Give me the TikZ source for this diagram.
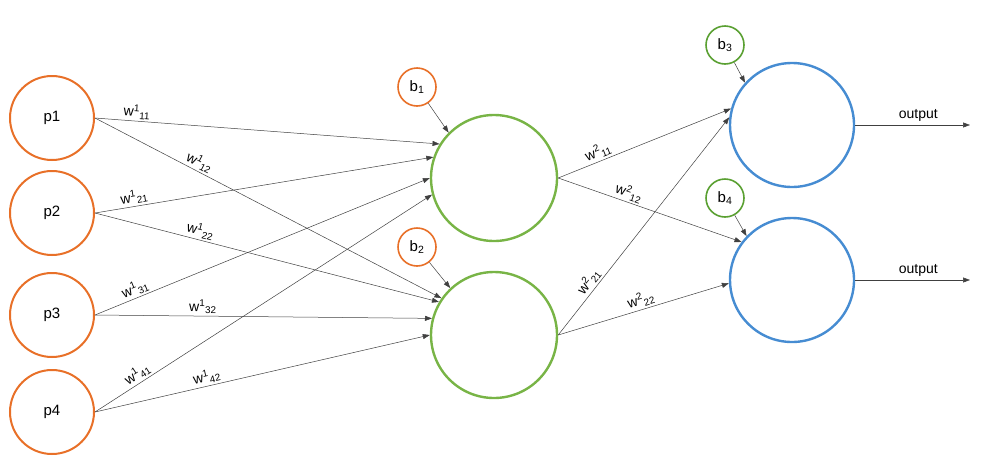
\documentclass[tikz,border=0pt]{standalone}
\usepackage{fontspec}
\setmainfont{Liberation Sans}
\usetikzlibrary{arrows.meta}
\definecolor{org}{RGB}{232,112,40}
\definecolor{grn}{RGB}{120,180,70}
\definecolor{blu}{RGB}{70,140,210}
\definecolor{bgr}{RGB}{90,160,50}
\begin{document}
\begin{tikzpicture}[x=1pt,y=-1pt,
  inp/.style={circle,draw=org,line width=2pt,minimum size=84pt,inner sep=0pt,font=\fontsize{15}{17}\selectfont},
  hid/.style={circle,draw=grn,line width=2.4pt,minimum size=126pt,inner sep=0pt},
  outn/.style={circle,draw=blu,line width=2.4pt,minimum size=124pt,inner sep=0pt},
  bia/.style={circle,line width=1.6pt,minimum size=38pt,inner sep=0pt,font=\fontsize{15}{17}\selectfont},
  con/.style={draw=black!75,line width=0.5pt,-{Triangle[length=7pt,width=5pt]}},
  lab/.style={sloped,above,inner sep=2pt,font=\fontsize{14}{16}\selectfont}]
\useasboundingbox (0,0) rectangle (1000,472);
\node[inp] (p1) at (52,118) {p1};
\node[inp] (p2) at (52,213) {p2};
\node[inp] (p3) at (52,315) {p3};
\node[inp] (p4) at (52,412) {p4};
\node[hid] (h1) at (494,178) {};
\node[hid] (h2) at (494,335) {};
\node[outn] (o1) at (792,125) {};
\node[outn] (o2) at (792,280) {};
\node[bia,draw=org] (b1) at (417,87) {b\textsubscript{1}};
\node[bia,draw=org] (b2) at (417,247) {b\textsubscript{2}};
\node[bia,draw=bgr] (b3) at (725,45) {b\textsubscript{3}};
\node[bia,draw=bgr] (b4) at (725,198) {b\textsubscript{4}};
\coordinate (e1) at (970,125);
\coordinate (e2) at (970,280);
\newcommand{\wl}[3]{w\textsuperscript{#1}\textsubscript{#2#3}}
\draw[con] (p1.east) -- node[lab,pos=0.12]{\wl{1}{1}{1}} (h1.148);
\draw[con] (p1.east) -- node[lab,pos=0.29]{\wl{1}{1}{2}} (h2.145);
\draw[con] (p2.east) -- node[lab,pos=0.12]{\wl{1}{2}{1}} (h1.161);
\draw[con] (p2.east) -- node[lab,pos=0.3]{\wl{1}{2}{2}} (h2.149);
\draw[con] (p3.east) -- node[lab,pos=0.13]{\wl{1}{3}{1}} (h1.180);
\draw[con] (p3.east) -- node[lab,pos=0.32]{\wl{1}{3}{2}} (h2.165);
\draw[con] (p4.east) -- node[lab,pos=0.14]{\wl{1}{4}{1}} (h1.195);
\draw[con] (p4.east) -- node[lab,pos=0.34]{\wl{1}{4}{2}} (h2.180);
\draw[con] (h1.east) -- node[lab,pos=0.25]{\wl{2}{1}{1}} (o1.165);
\draw[con] (h1.east) -- node[lab,pos=0.37]{\wl{2}{1}{2}} (o2.143);
\draw[con] (h2.east) -- node[lab,pos=0.22]{\wl{2}{2}{1}} (o1.173);
\draw[con] (h2.east) -- node[lab,pos=0.5]{\wl{2}{2}{2}} (o2.183);
\draw[con] (b1) -- (h1.135);
\draw[con] (b2) -- (h2.133);
\draw[con] (b3) -- (o1.138);
\draw[con] (b4) -- (o2.136);
\draw[con] (o1.east) -- node[above,pos=0.55,font=\fontsize{14}{16}\selectfont]{output} (e1);
\draw[con] (o2.east) -- node[above,pos=0.55,font=\fontsize{14}{16}\selectfont]{output} (e2);
\end{tikzpicture}
\end{document}
